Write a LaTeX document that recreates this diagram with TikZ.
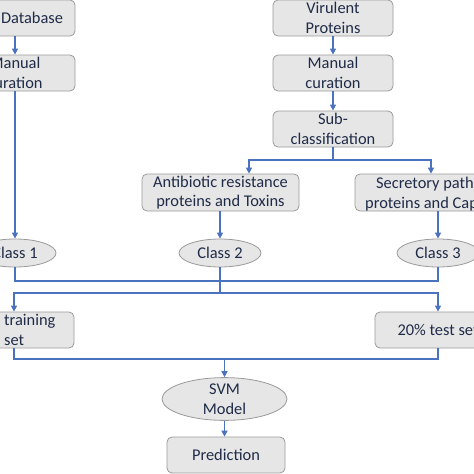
\documentclass[tikz,border=0pt]{standalone}
\usepackage{fontspec}
\setmainfont{Carlito}
\usetikzlibrary{arrows.meta,shapes.geometric}
\definecolor{boxfill}{HTML}{E6E6E6}
\definecolor{boxline}{HTML}{9A9A9A}
\definecolor{txt}{HTML}{1F2B47}
\definecolor{flow}{HTML}{4A72BE}
\tikzset{
  base/.style={draw=boxline, fill=boxfill, line width=0.8pt, text=txt, inner sep=0pt, align=center,
    font=\fontsize{16.4}{19.5}\selectfont},
  stepbox/.style={base, rectangle, rounded corners=5pt, minimum width=120pt, minimum height=36pt},
  classnode/.style={base, ellipse, minimum width=82pt, minimum height=28pt},
  lbl/.style={text=txt, inner sep=0pt, font=\fontsize{16.4}{19.5}\selectfont, align=left},
  wire/.style={draw=flow, line width=1.7pt},
  conn/.style={wire, -{Triangle[length=6pt,width=6pt]}},
}
\begin{document}
\begin{tikzpicture}[x=1pt,y=-1pt]
\useasboundingbox (0,0) rectangle (474,474);
% left column
\node[stepbox, text width=96pt, inner xsep=12pt, align=right] (db) at (15,18) {Database};
\node[stepbox] (mc1) at (15,73) {Manual\\curation};
% right column
\node[stepbox] (vp) at (333,18) {Virulent\\Proteins};
\node[stepbox] (mc2) at (333,73) {Manual\\curation};
\node[stepbox] (sub) at (333,129) {Sub-\\classification};
\node[stepbox, minimum width=157pt, minimum height=37pt] (ab) at (220.5,192.5) {Antibiotic resistance\\proteins and Toxins};
\node[stepbox, minimum width=166pt, minimum height=37pt] (sec) at (438,192.5) {};
\node[lbl, anchor=base west] (secA) at (376,188) {Secretory path};
\node[lbl, anchor=base west] (secB) at (365,208) {proteins and Cap};
% classes
\node[classnode] (cl1) at (15,253) {Class 1};
\node[classnode] (cl2) at (220,253) {Class 2};
\node[classnode] (cl3) at (438,253) {Class 3};
% sets
\node[stepbox] (tr) at (14,330) {};
\node[lbl, anchor=west] (trt) at (4,330) {training\\set};
\node[stepbox, minimum width=126pt] (ts) at (438,330) {20\% test set};
% model
\node[classnode, minimum width=125pt, minimum height=40pt] (svm) at (224.5,399) {SVM\\Model};
\node[stepbox, minimum width=118pt] (pred) at (226,455) {Prediction};
% connectors
\draw[conn] (db.south) -- (mc1.north);
\draw[conn] (mc1.south) -- (cl1.north);
\draw[conn] (vp.south) -- (mc2.north);
\draw[conn] (mc2.south) -- (sub.north);
\coordinate (split) at (333,160);
\draw[wire] (sub.south) -- (split);
\draw[conn] (split) -| ([xshift=28.5pt]ab.north);
\draw[conn] (split) -| ([xshift=-7pt]sec.north);
\draw[conn] (ab.south -| cl2.north) -- (cl2.north);
\draw[conn] (sec.south) -- (cl3.north);
\coordinate (row1) at (0,281);
\coordinate (row2) at (0,293);
\draw[wire] (cl1.south) |- (cl3.south |- row1) -- (cl3.south);
\draw[wire] (cl2.south) -- (cl2.south |- row2);
\draw[conn] (cl2.south |- row2) -| (tr.north);
\draw[conn] (cl2.south |- row2) -| (ts.north);
\coordinate (row3) at (0,359);
\draw[wire] (tr.south) |- (ts.south |- row3) -- (ts.south);
\draw[conn] (svm.north |- row3) -- (svm.north);
\draw[conn] (svm.south) -- (svm.south |- pred.north);
\end{tikzpicture}
\end{document}
